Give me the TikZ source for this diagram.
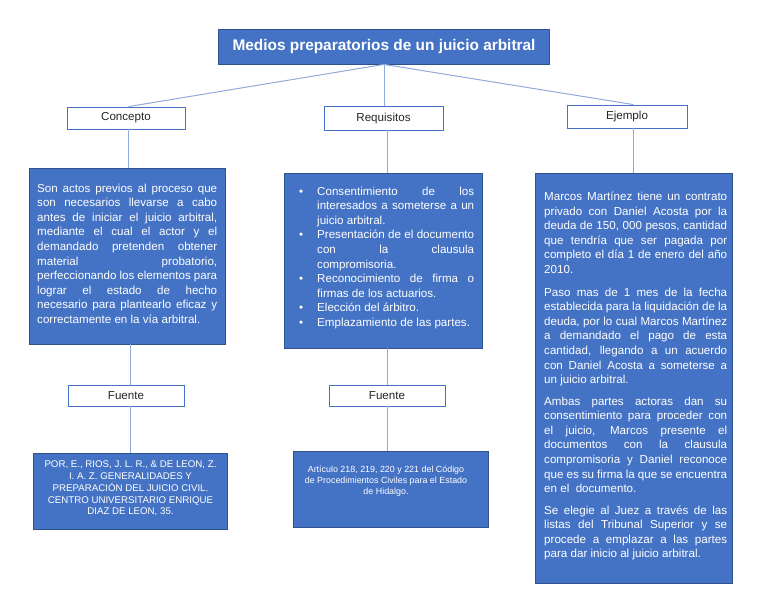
\documentclass[tikz,border=0pt]{standalone}
\usepackage{fontspec}
\setmainfont{Liberation Sans}
\usetikzlibrary{calc}
\definecolor{boxblue}{HTML}{4472C4}
\definecolor{edgeblue}{HTML}{2F528F}
\definecolor{linkblue}{HTML}{8FAADC}
\definecolor{labeltext}{HTML}{262626}
\newlength\jw
\newcommand\jl[1]{\makebox[\jw][s]{#1}}
\newcommand\natsp{\spaceskip=0pt\xspaceskip=0pt\relax}
\newcommand\fixsp{\spaceskip=\fontdimen2\font\xspaceskip=\fontdimen2\font\relax}
\begin{document}
\begin{tikzpicture}[x=1pt,y=-1pt,
  bluebox/.style={draw=edgeblue,fill=boxblue,line width=0.8pt,inner sep=0pt},
  labelbox/.style={draw=boxblue,fill=white,line width=0.8pt,inner sep=0pt,text=labeltext,font=\fontsize{11.6}{14}\selectfont},
  link/.style={draw=linkblue,line width=1pt},
  bodytext/.style={text=white,inner sep=0pt,align=left,anchor=base west,font=\fontsize{11.6}{14.6}\selectfont},
  srctext/.style={text=white,inner sep=0pt,align=center,anchor=base,text width=192pt}
]
\useasboundingbox (0,0) rectangle (768,594);

% column coordinates
\coordinate (colA) at (128.5,0);
\coordinate (colAb) at (130,0);
\coordinate (colB) at (387.5,0);
\coordinate (colC) at (633.5,0);

% title
\node[bluebox,minimum width=331pt,minimum height=35pt,text=white,
      font=\fontsize{15.4}{18}\selectfont\bfseries] (title) at (384,46.5)
      {Medios preparatorios de un juicio arbitral};

% label boxes
\node[labelbox,minimum width=118pt,minimum height=22pt] (concepto) at (126,118) {Concepto};
\node[labelbox,minimum width=119pt,minimum height=24pt] (requisitos) at (383.5,118) {Requisitos};
\node[labelbox,minimum width=120pt,minimum height=23pt] (ejemplo) at (627,116.5) {Ejemplo};
\node[labelbox,minimum width=116pt,minimum height=21pt] (fuenteA) at (126,395.5) {Fuente};
\node[labelbox,minimum width=116pt,minimum height=21pt] (fuenteB) at (387,395.5) {Fuente};

% blue content boxes
\node[bluebox,minimum width=196pt,minimum height=176pt] (conceptoBox) at (127,256) {};
\node[bluebox,minimum width=198pt,minimum height=175pt] (requisitosBox) at (383,260.5) {};
\node[bluebox,minimum width=197pt,minimum height=410pt] (ejemploBox) at (633.5,378) {};
\node[bluebox,minimum width=194pt,minimum height=76pt] (fuenteABox) at (130,491) {};
\node[bluebox,minimum width=195pt,minimum height=76pt] (fuenteBBox) at (390.5,489) {};

% connectors
\draw[link] (title.south) -- (concepto.north -| colA);
\draw[link] (title.south) -- (requisitos.north -| title.south);
\draw[link] (title.south) -- (ejemplo.north -| colC);
\draw[link] (concepto.south -| colA) -- (conceptoBox.north -| colA);
\draw[link] (conceptoBox.south -| colAb) -- (fuenteA.north -| colAb);
\draw[link] (fuenteA.south -| colAb) -- (fuenteABox.north -| colAb);
\draw[link] (requisitos.south -| colB) -- (requisitosBox.north -| colB);
\draw[link] (requisitosBox.south -| colB) -- (fuenteB.north -| colB);
\draw[link] (fuenteB.south -| colB) -- (fuenteBBox.north -| colB);
\draw[link] (ejemplo.south -| colC) -- (ejemploBox.north -| colC);

% texts
\node[bodytext,text width=181pt] (conceptoTxt) at (37,192) {\natsp\setlength\jw{180pt}%
\jl{Son actos previos al proceso que}\\
\jl{son necesarios llevarse a cabo}\\
\jl{antes de iniciar el juicio arbitral,}\\
\jl{mediante el cual el actor y el}\\
\jl{demandado pretenden obtener}\\
\jl{material probatorio,}\\
\jl{perfeccionando los elementos para}\\
\jl{lograr el estado de hecho}\\
\jl{necesario para plantearlo eficaz y}\\
correctamente en la vía arbitral.};

\node[bodytext,text width=176pt] (requisitosTxt) at (299,195) {\natsp\setlength\jw{157pt}%
\makebox[18pt][l]{\textbullet}\jl{Consentimiento de los}\\
\hspace*{18pt}\jl{interesados a someterse a un}\\
\hspace*{18pt}juicio arbitral.\\
\makebox[18pt][l]{\textbullet}\jl{Presentación de el documento}\\
\hspace*{18pt}\jl{con la clausula}\\
\hspace*{18pt}compromisoria.\\
\makebox[18pt][l]{\textbullet}\jl{Reconocimiento de firma o}\\
\hspace*{18pt}firmas de los actuarios.\\
\makebox[18pt][l]{\textbullet}Elección del árbitro.\\
\makebox[18pt][l]{\textbullet}Emplazamiento de las partes.};

\node[bodytext,text width=184pt] (ejemploTxt) at (544,200.5) {\natsp\setlength\jw{183pt}%
\jl{Marcos Martínez tiene un contrato}\\
\jl{privado con Daniel Acosta por la}\\
\jl{deuda de 150, 000 pesos, cantidad}\\
\jl{que tendría que ser pagada por}\\
\jl{completo el día 1 de enero del año}\\
2010.\\[8pt]
\jl{Paso mas de 1 mes de la fecha}\\
\jl{establecida para la liquidación de la}\\
\jl{deuda, por lo cual Marcos Martínez}\\
\jl{a demandado el pago de esta}\\
\jl{cantidad, llegando a un acuerdo}\\
\jl{con Daniel Acosta a someterse a}\\
un juicio arbitral.\\[6.8pt]
\jl{Ambas partes actoras dan su}\\
\jl{consentimiento para proceder con}\\
\jl{el juicio, Marcos presente el}\\
\jl{documentos con la clausula}\\
\jl{compromisoria y Daniel reconoce}\\
\jl{que es su firma la que se encuentra}\\
en el\ \ documento.\\[6.8pt]
\jl{Se elegie al Juez a través de las}\\
\jl{listas del Tribunal Superior y se}\\
\jl{procede a emplazar a las partes}\\
para dar inicio al juicio arbitral.};

\node[srctext,font=\fontsize{9.7}{11.8}\selectfont] (fuenteATxt) at (130.5,467.7)
{\fixsp POR, E., RIOS, J. L. R., \& DE LEON, Z.\\
I. A. Z. GENERALIDADES Y\\
PREPARACIÓN DEL JUICIO CIVIL.\\
CENTRO UNIVERSITARIO ENRIQUE\\
DIAZ DE LEON, 35.};

\node[srctext,font=\fontsize{8.9}{11}\selectfont] (fuenteBTxt) at (386,472.5)
{\fixsp Artículo 218, 219, 220 y 221 del Código\\
de Procedimientos Civiles para el Estado\\
de Hidalgo.};
\end{tikzpicture}
\end{document}
